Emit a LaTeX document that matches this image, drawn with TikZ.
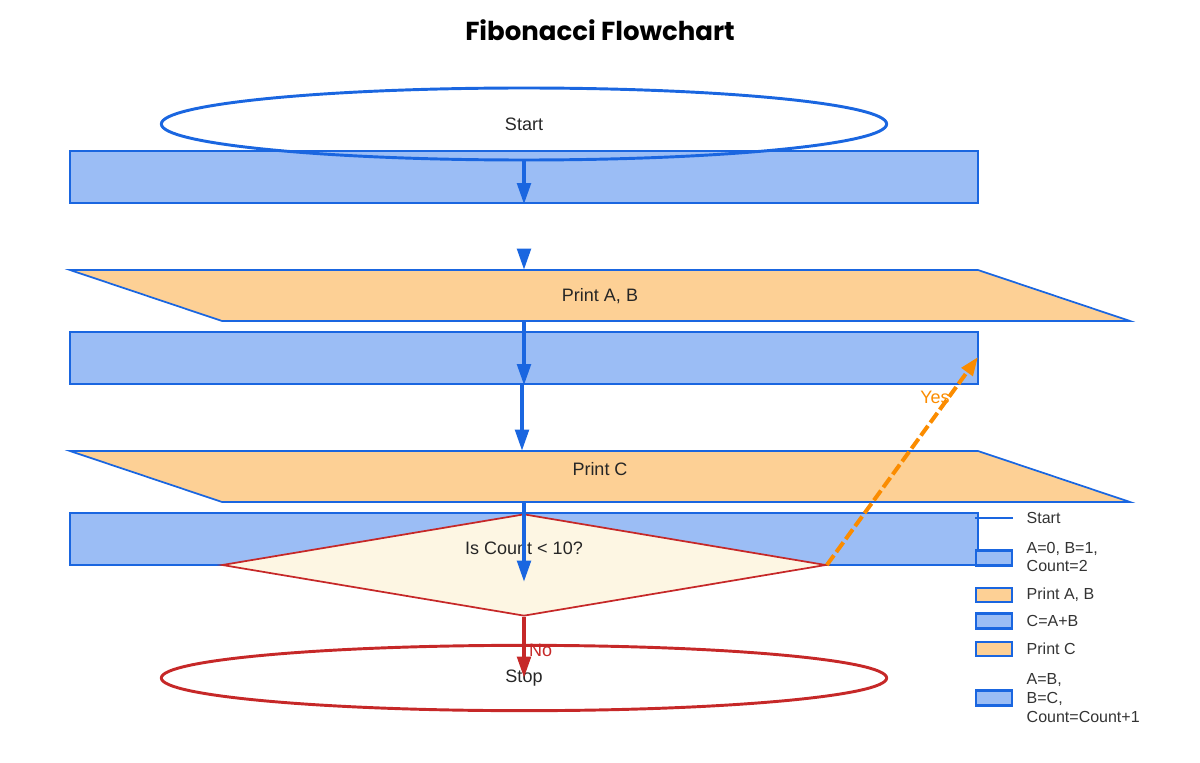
\documentclass[tikz,border=0pt]{standalone}
\usepackage{fontspec}
\setmainfont{Liberation Sans}
\newfontfamily\titlefont{Poppins}
\usetikzlibrary{shapes.geometric,arrows.meta}
\definecolor{bl}{HTML}{1A66E0}
\definecolor{blf}{HTML}{9BBDF5}
\definecolor{orf}{HTML}{FDD095}
\definecolor{rd}{HTML}{C62828}
\definecolor{dmf}{HTML}{FDF6E3}
\definecolor{org}{HTML}{FB8C00}
\tikzset{
 procbox/.style={draw=bl,line width=2.2pt,fill=blf,minimum width=681pt,minimum height=39pt,inner sep=0pt},
 iobox/.style={draw=bl,line width=1.3pt,fill=orf},
 flow/.style={bl,line width=3pt,-{Triangle[length=16pt,width=10pt]}},
 lab/.style={font=\fontsize{13.5}{15}\selectfont,text=black!85},
 legtxt/.style={font=\fontsize{12}{14}\selectfont,text=black!80,anchor=west,align=left},
 legbox/.style={line width=2pt,minimum width=27pt,minimum height=11pt,inner sep=0pt}
}
\begin{document}
\begin{tikzpicture}[x=0.75pt,y=-0.75pt]
\useasboundingbox (0,0) rectangle (1200,763);
\node[font=\titlefont\bfseries\fontsize{19.5}{22}\selectfont] (title) at (600,30) {Fibonacci Flowchart};
% rect 1
\node[procbox] (r1) at (524,177) {};
\node[draw=bl,line width=2.2pt,ellipse,minimum width=544pt,minimum height=54pt] (start) at (524,124) {};
\node[lab] (starttxt) at (524,124) {Start};
\coordinate (s1) at (524,160);
\draw[flow] (s1) -- (r1.south);
\coordinate (a1) at (524,250); \coordinate (a2) at (524,270);
\draw[flow] (a1) -- (a2);
% parallelogram 1
\draw[iobox] (70,270) -- (978,270) -- (1130,321) -- (222,321) -- cycle;
\node[lab] (p1) at (600,296) {Print A, B};
\node[procbox] (r2) at (524,358) {};
\coordinate (p1b) at (524,321);
\draw[flow] (p1b) -- (r2.south);
\coordinate (r2b) at (522,384); \coordinate (p2t) at (522,451);
\draw[flow] (r2b) -- (p2t);
% parallelogram 2
\draw[iobox] (70,451) -- (978,451) -- (1130,502) -- (222,502) -- cycle;
\node[lab] (p2) at (600,469) {Print C};
\node[procbox] (r3) at (524,539) {};
% diamond
\node[diamond,draw=rd,line width=1.3pt,fill=dmf,minimum width=453pt,minimum height=76.5pt,inner sep=0pt,aspect=5.9] (dec) at (524,565) {};
\node[lab] (dectxt) at (524,548) {Is Count < 10?};
\coordinate (p2b) at (524,502); \coordinate (d1) at (524,582);
\draw[flow] (p2b) -- (d1);
% stop
\node[draw=rd,line width=2.2pt,ellipse,minimum width=544pt,minimum height=49pt] (stop) at (524,678) {};
\node[lab] (stoptxt) at (524,678) {Stop};
\draw[rd,line width=3pt,-{Triangle[length=16pt,width=10pt]}] (dec.south) -- (stoptxt.center) node[pos=0.55,right=-1pt,text=rd,font=\fontsize{13.5}{15}\selectfont] (no) {No};
\coordinate (yt) at (978,357);
\draw[org,line width=3pt,dashed,dash pattern=on 9pt off 3pt,-{Triangle[length=14pt,width=10pt]}] (dec.east) -- (yt);
\node[text=org,font=\fontsize{13.5}{15}\selectfont] (yes) at (935,397) {Yes};
% legend
\coordinate (l0a) at (975,518); \coordinate (l0b) at (1013,518);
\draw[bl,line width=2pt] (l0a) -- (l0b);
\node[legtxt] (lt0) at (1022,518) {Start};
\node[legbox,draw=bl,fill=blf] (lb1) at (994,558) {};
\node[legtxt] (lt1) at (1022,557) {A=0, B=1,\\Count=2};
\node[legbox,draw=bl,fill=orf,line width=1.3pt] (lb2) at (994,595) {};
\node[legtxt] (lt2) at (1022,595) {Print A, B};
\node[legbox,draw=bl,fill=blf] (lb3) at (994,621) {};
\node[legtxt] (lt3) at (1022,621) {C=A+B};
\node[legbox,draw=bl,fill=orf,line width=1.3pt] (lb4) at (994,649) {};
\node[legtxt] (lt4) at (1022,649) {Print C};
\node[legbox,draw=bl,fill=blf] (lb5) at (994,698) {};
\node[legtxt] (lt5) at (1022,698) {A=B,\\B=C,\\Count=Count+1};
\end{tikzpicture}
\end{document}
